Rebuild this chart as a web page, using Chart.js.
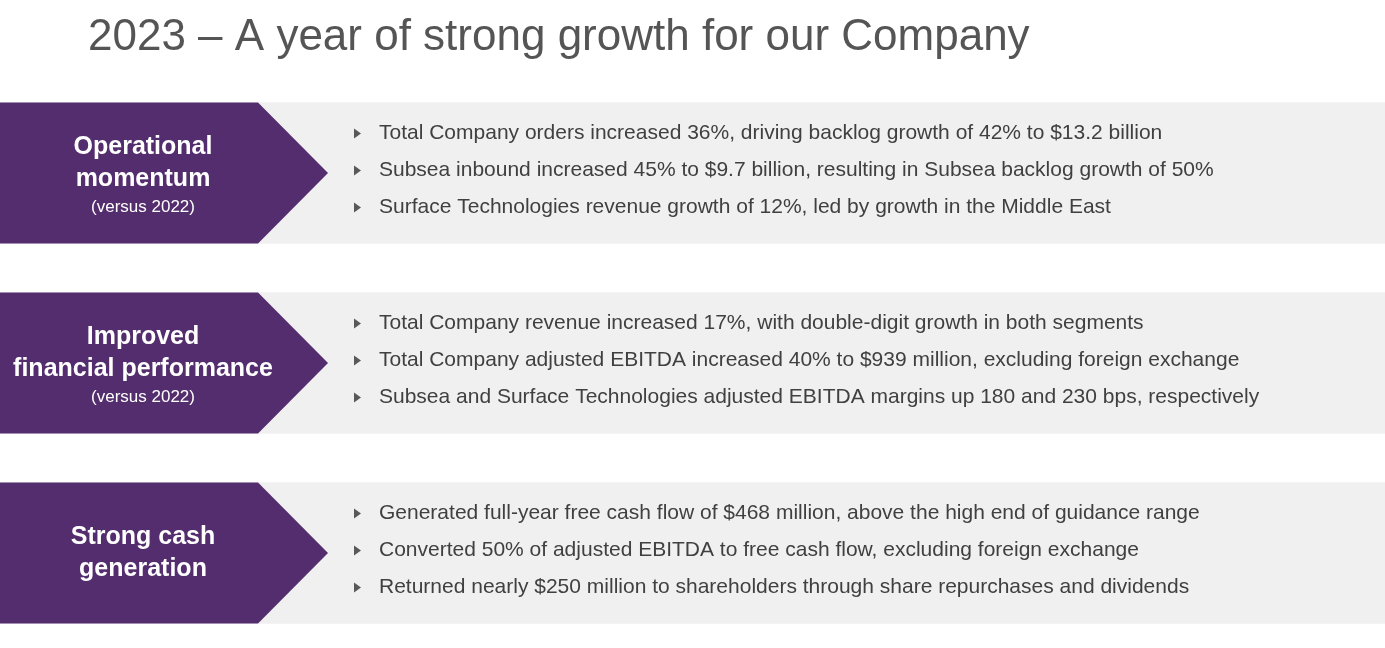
<!DOCTYPE html>
<html><head><meta charset="utf-8">
<script src="https://cdn.jsdelivr.net/npm/chart.js@4"></script>
<style>html,body{margin:0;padding:0;background:#fff}#wrap{width:1385px;height:648px}</style>
</head><body><div id="wrap"><canvas id="c"></canvas></div>
<script>
const title = "2023 – A year of strong growth for our Company";
const categories = [["Operational","momentum"],["Improved","financial performance"],["Strong cash","generation"]];
const subtitles = ["(versus 2022)","(versus 2022)",""];
const bandValues = [1,1,1];
const bullets = [
 ["Total Company orders increased 36%, driving backlog growth of 42% to $13.2 billion",
  "Subsea inbound increased 45% to $9.7 billion, resulting in Subsea backlog growth of 50%",
  "Surface Technologies revenue growth of 12%, led by growth in the Middle East"],
 ["Total Company revenue increased 17%, with double-digit growth in both segments",
  "Total Company adjusted EBITDA increased 40% to $939 million, excluding foreign exchange",
  "Subsea and Surface Technologies adjusted EBITDA margins up 180 and 230 bps, respectively"],
 ["Generated full-year free cash flow of $468 million, above the high end of guidance range",
  "Converted 50% of adjusted EBITDA to free cash flow, excluding foreign exchange",
  "Returned nearly $250 million to shareholders through share repurchases and dividends"]
];
const FONT = '"Liberation Sans", Arial, sans-serif';
const slidePlugin = {
  id:'slide',
  afterDatasetsDraw(chart){
    const ctx = chart.ctx;
    ctx.save();
    ctx.fillStyle = '#555555';
    ctx.font = '44px ' + FONT;
    ctx.textBaseline = 'middle';
    ctx.fillText(title, 88, 38);
    const meta = chart.getDatasetMeta(0);
    meta.data.forEach((bar, i) => {
      const top = bar.y - bar.height/2, bot = bar.y + bar.height/2, mid = bar.y;
      ctx.fillStyle = '#532d6d';
      ctx.beginPath();
      ctx.moveTo(0, top); ctx.lineTo(258, top); ctx.lineTo(328, mid);
      ctx.lineTo(258, bot); ctx.lineTo(0, bot); ctx.closePath(); ctx.fill();
      ctx.fillStyle = '#ffffff';
      ctx.textAlign = 'center';
      ctx.font = 'bold 25px ' + FONT;
      const lines = categories[i];
      const hasSub = subtitles[i] !== '';
      const startY = hasSub ? mid - 26 : mid - 16;
      lines.forEach((l, k) => ctx.fillText(l, 143, startY + k*32));
      if (hasSub) { ctx.font = '17px ' + FONT; ctx.fillText(subtitles[i], 143, mid + 34); }
      ctx.textAlign = 'left';
      ctx.font = '21px ' + FONT;
      bullets[i].forEach((b, k) => {
        const y = top + 31 + k*37;
        ctx.fillStyle = '#595959';
        ctx.beginPath(); ctx.moveTo(354, y-5); ctx.lineTo(361, y); ctx.lineTo(354, y+5); ctx.closePath(); ctx.fill();
        ctx.fillStyle = '#404040';
        ctx.fillText(b, 379, y);
      });
    });
    ctx.restore();
  }
};
new Chart(document.getElementById('c'), {
  type:'bar',
  data:{ labels: categories.map(c=>c.join(' ')),
    datasets:[{ data: bandValues, backgroundColor:'#f0f0f0', barThickness:141, borderWidth:0 }] },
  options:{ indexAxis:'y', responsive:true, maintainAspectRatio:false, animation:false,
    layout:{ padding:{ top:78, bottom:0, left:0, right:0 } },
    plugins:{ legend:{display:false}, tooltip:{enabled:false} },
    scales:{ x:{ display:false, min:0, max:1 }, y:{ display:false, grid:{display:false} } } },
  plugins:[slidePlugin]
});
</script></body></html>
